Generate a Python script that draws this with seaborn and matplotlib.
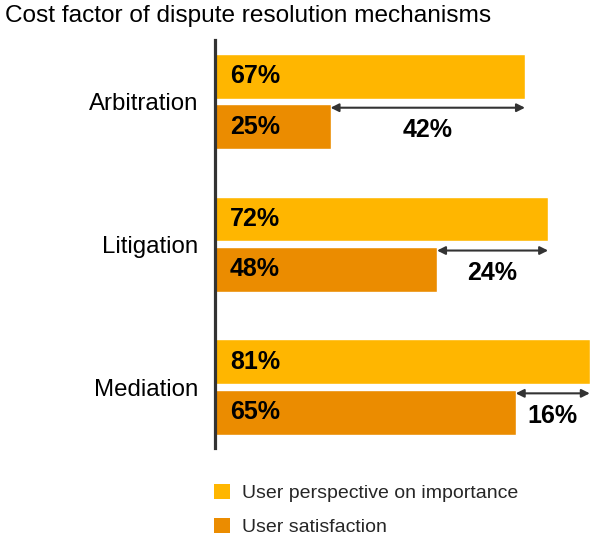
import matplotlib
matplotlib.use("Agg")
import matplotlib.pyplot as plt
import seaborn as sns
import pandas as pd
from matplotlib.patches import Patch

categories = ["Arbitration", "Litigation", "Mediation"]
importance = [67, 72, 81]
satisfaction = [25, 48, 65]
series_names = ["User perspective on importance", "User satisfaction"]
colors = ["#FFB600", "#EB8C00"]

sns.set_theme(style="white")
plt.rcParams['font.family'] = ['Liberation Sans', 'DejaVu Sans']

df = pd.DataFrame({
    "category": categories * 2,
    "value": importance + satisfaction,
    "series": [series_names[0]] * 3 + [series_names[1]] * 3,
})

fig = plt.figure(figsize=(6, 5.4), dpi=100)
ax = fig.add_axes([0.358, 0.1704, 0.625, 0.7556])

sns.barplot(data=df, y="category", x="value", hue="series", order=categories,
            hue_order=series_names, palette=colors, orient="h", width=0.706,
            gap=0.11, legend=False, ax=ax, saturation=1)

ax.set_xlim(0, 81)
ax.set_ylim(2.427, -0.43)
ax.set_xlabel("")
ax.set_ylabel("")
ax.set_xticks([])
ax.tick_params(axis="y", length=0, pad=12, labelsize=17.3, labelcolor="black")
for s in ["top", "right", "bottom"]:
    ax.spines[s].set_visible(False)
ax.spines["left"].set_color("#333333")
ax.spines["left"].set_linewidth(2.3)

top_bars = ax.containers[0]
bot_bars = ax.containers[1]
for tb, bb in zip(top_bars, bot_bars):
    for b in (tb, bb):
        ax.text(3.3, b.get_y() + b.get_height() / 2, f"{b.get_width():.0f}%",
                ha="left", va="center", fontsize=18, fontweight="bold", color="black")
    yw = tb.get_width()
    ow = bb.get_width()
    ya = bb.get_y() + 0.025
    ax.annotate("", xy=(yw, ya), xytext=(ow, ya),
                arrowprops=dict(arrowstyle="<|-|>", color="#333333", lw=1.5,
                                mutation_scale=12, shrinkA=0, shrinkB=0))
    ax.text((yw + ow) / 2, bb.get_y() + bb.get_height() / 2 + 0.025, f"{yw - ow:.0f}%",
            ha="center", va="center", fontsize=18, fontweight="bold", color="black")

fig.text(0.008, 0.971, "Cost factor of dispute resolution mechanisms",
         ha="left", va="center", fontsize=17.6, color="black")

handles = [Patch(facecolor=c, edgecolor="none") for c in colors]
fig.legend(handles, series_names, loc="upper left", bbox_to_anchor=(0.357, 0.104),
           frameon=False, fontsize=14, handlelength=0.82, handleheight=0.82,
           handletextpad=0.62, labelspacing=0.8, borderaxespad=0, borderpad=0)

fig.savefig("out.png", dpi=100)
